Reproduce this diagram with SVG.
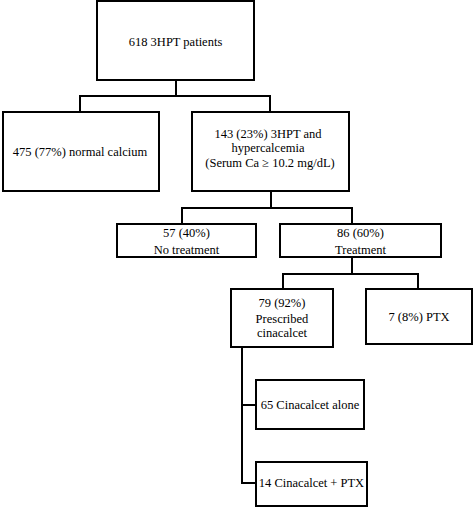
<svg xmlns="http://www.w3.org/2000/svg" width="474" height="508" viewBox="0 0 474 508">
<style>
.box{fill:#fff;stroke:#000;stroke-width:2}
.ln{fill:none;stroke:#000;stroke-width:2}
.t{font-family:'Liberation Serif','Times New Roman','DejaVu Serif',serif;font-size:12.5px;fill:#000;text-anchor:middle}
</style>
<rect width="474" height="508" fill="#fff"/>
<g id="connectors">
<path class="ln" d="M176,80 V96 M80,112 V96 H270 V112"/>
<path class="ln" d="M271,191 V208 M182,224 V208 H352 V224"/>
<path class="ln" d="M352,257 V274 M283,289 V274 H418 V289"/>
<path class="ln" d="M242,347 V483 H256 M242,405 H256"/>
</g>
<g id="n1"><rect class="box" x="97" y="1" width="157" height="79"/><text class="t" x="175.5" y="46">618 3HPT patients</text></g>
<g id="n2"><rect class="box" x="3" y="112" width="156" height="79"/><text class="t" x="80" y="156">475 (77%) normal calcium</text></g>
<g id="n3"><rect class="box" x="192" y="112" width="157" height="79"/><text class="t" x="268" y="138">143 (23%) 3HPT and</text><text class="t" x="268" y="152">hypercalcemia</text><text class="t" x="270" y="167">(Serum Ca ≥ 10.2 mg/dL)</text></g>
<g id="n4"><rect class="box" x="117" y="224" width="139" height="33"/><text class="t" x="186.5" y="237">57 (40%)</text><text class="t" x="186.5" y="254">No treatment</text></g>
<g id="n5"><rect class="box" x="280" y="224" width="161" height="33"/><text class="t" x="360.5" y="237">86 (60%)</text><text class="t" x="360.5" y="254">Treatment</text></g>
<g id="n6"><rect class="box" x="231" y="289" width="102" height="58"/><text class="t" x="282" y="307">79 (92%)</text><text class="t" x="282" y="323">Prescribed</text><text class="t" x="282" y="337">cinacalcet</text></g>
<g id="n7"><rect class="box" x="366" y="289" width="106" height="55"/><text class="t" x="419" y="321">7 (8%) PTX</text></g>
<g id="n8"><rect class="box" x="256" y="380" width="108" height="49"/><text class="t" x="310" y="409">65 Cinacalcet alone</text></g>
<g id="n9"><rect class="box" x="256" y="462" width="111" height="44"/><text class="t" x="311.5" y="487">14 Cinacalcet + PTX</text></g>
</svg>
